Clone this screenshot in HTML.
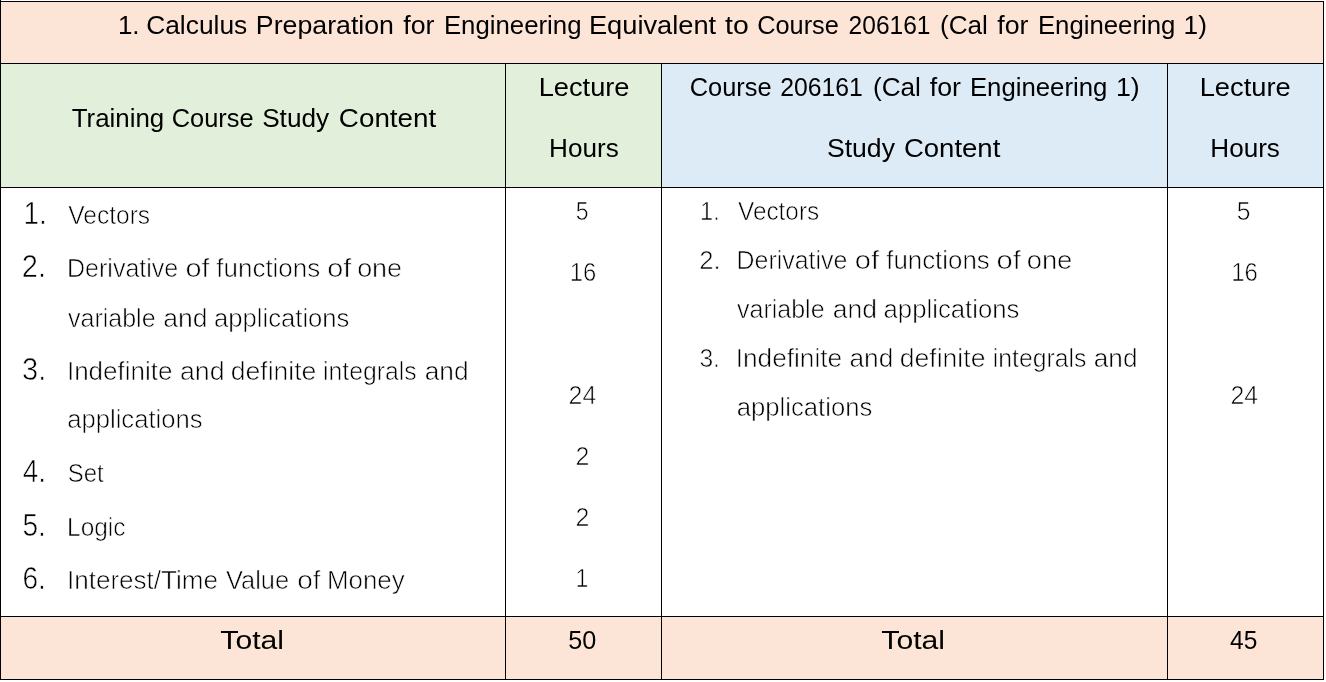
<!DOCTYPE html>
<html><head><meta charset="utf-8"><title>Calculus Preparation</title>
<style>html,body{margin:0;padding:0;background:#fff;overflow:hidden}svg{display:block}text{font-family:"Liberation Sans",sans-serif;fill:#000}.b{fill:#000;stroke:#fff;stroke-width:0.6px;paint-order:fill stroke}.h{fill:#000}</style></head><body>
<svg width="1326" height="682" viewBox="0 0 1326 682">
<rect x="0" y="0" width="1326" height="682" fill="#fff"/>
<rect x="0" y="1" width="1324" height="63" fill="#FCE4D6"/>
<rect x="0" y="63" width="662" height="125" fill="#E2EFDA"/>
<rect x="661" y="63" width="663" height="125" fill="#DDEBF7"/>
<rect x="0" y="616" width="1324" height="64" fill="#FCE4D6"/>
<g fill="#000" shape-rendering="crispEdges">
<rect x="0" y="1" width="1324" height="1"/>
<rect x="0" y="63" width="1324" height="1"/>
<rect x="0" y="187" width="1324" height="1"/>
<rect x="0" y="616" width="1324" height="1"/>
<rect x="0" y="679" width="1324" height="1"/>
<rect x="0" y="0" width="1" height="680"/>
<rect x="1323" y="1" width="1" height="679"/>
<rect x="505" y="63" width="1" height="617"/>
<rect x="661" y="63" width="1" height="617"/>
<rect x="1167" y="63" width="1" height="617"/>
</g>
<defs><filter id="g" x="0" y="0" width="1326" height="682" filterUnits="userSpaceOnUse"><feOffset dx="0" dy="0"/></filter></defs><g filter="url(#g)">
<text class="h" x="117.96" y="34" font-size="25.0" textLength="21.63" lengthAdjust="spacingAndGlyphs">1.</text>
<text class="h" x="146.17" y="34" font-size="25.0" textLength="101.12" lengthAdjust="spacingAndGlyphs">Calculus</text>
<text class="h" x="255.87" y="34" font-size="25.0" textLength="138.09" lengthAdjust="spacingAndGlyphs">Preparation</text>
<text class="h" x="403.22" y="34" font-size="25.0" textLength="31.20" lengthAdjust="spacingAndGlyphs">for</text>
<text class="h" x="443.94" y="34" font-size="25.0" textLength="137.54" lengthAdjust="spacingAndGlyphs">Engineering</text>
<text class="h" x="588.90" y="34" font-size="25.0" textLength="127.31" lengthAdjust="spacingAndGlyphs">Equivalent</text>
<text class="h" x="725.00" y="34" font-size="25.0" textLength="23.66" lengthAdjust="spacingAndGlyphs">to</text>
<text class="h" x="757.19" y="34" font-size="25.0" textLength="81.61" lengthAdjust="spacingAndGlyphs">Course</text>
<text class="h" x="848.61" y="34" font-size="25.0" textLength="81.92" lengthAdjust="spacingAndGlyphs">206161</text>
<text class="h" x="939.94" y="34" font-size="25.0" textLength="47.98" lengthAdjust="spacingAndGlyphs">(Cal</text>
<text class="h" x="997.22" y="34" font-size="25.0" textLength="31.20" lengthAdjust="spacingAndGlyphs">for</text>
<text class="h" x="1037.93" y="34" font-size="25.0" textLength="137.45" lengthAdjust="spacingAndGlyphs">Engineering</text>
<text class="h" x="1183.63" y="34" font-size="25.0" textLength="23.31" lengthAdjust="spacingAndGlyphs">1)</text>
<text class="h" x="71.79" y="127" font-size="25.0" textLength="92.45" lengthAdjust="spacingAndGlyphs">Training</text>
<text class="h" x="171.77" y="127" font-size="25.0" textLength="81.86" lengthAdjust="spacingAndGlyphs">Course</text>
<text class="h" x="262.17" y="127" font-size="25.0" textLength="66.98" lengthAdjust="spacingAndGlyphs">Study</text>
<text class="h" x="338.89" y="127" font-size="25.0" textLength="97.32" lengthAdjust="spacingAndGlyphs">Content</text>
<text class="h" x="538.71" y="96.1" font-size="25.0" textLength="90.78" lengthAdjust="spacingAndGlyphs">Lecture</text>
<text class="h" x="549.13" y="156.8" font-size="25.0" textLength="69.69" lengthAdjust="spacingAndGlyphs">Hours</text>
<text class="h" x="689.77" y="96.1" font-size="25.0" textLength="81.86" lengthAdjust="spacingAndGlyphs">Course</text>
<text class="h" x="780.21" y="96.1" font-size="25.0" textLength="82.51" lengthAdjust="spacingAndGlyphs">206161</text>
<text class="h" x="872.95" y="96.1" font-size="25.0" textLength="47.98" lengthAdjust="spacingAndGlyphs">(Cal</text>
<text class="h" x="929.78" y="96.1" font-size="25.0" textLength="31.20" lengthAdjust="spacingAndGlyphs">for</text>
<text class="h" x="969.93" y="96.1" font-size="25.0" textLength="137.45" lengthAdjust="spacingAndGlyphs">Engineering</text>
<text class="h" x="1115.96" y="96.1" font-size="25.0" textLength="23.70" lengthAdjust="spacingAndGlyphs">1)</text>
<text class="h" x="826.94" y="157" font-size="25.0" textLength="68.00" lengthAdjust="spacingAndGlyphs">Study</text>
<text class="h" x="903.90" y="157" font-size="25.0" textLength="96.42" lengthAdjust="spacingAndGlyphs">Content</text>
<text class="h" x="1199.70" y="96.1" font-size="25.0" textLength="90.99" lengthAdjust="spacingAndGlyphs">Lecture</text>
<text class="h" x="1210.32" y="156.8" font-size="25.0" textLength="69.61" lengthAdjust="spacingAndGlyphs">Hours</text>
<text class="b" x="23.38" y="224.0" font-size="30.5" textLength="23.40" lengthAdjust="spacingAndGlyphs">1.</text>
<text class="b" x="21.85" y="277.0" font-size="30.5" textLength="24.19" lengthAdjust="spacingAndGlyphs">2.</text>
<text class="b" x="22.06" y="379.7" font-size="30.5" textLength="24.23" lengthAdjust="spacingAndGlyphs">3.</text>
<text class="b" x="22.63" y="482.1" font-size="30.5" textLength="23.40" lengthAdjust="spacingAndGlyphs">4.</text>
<text class="b" x="22.47" y="535.5" font-size="30.5" textLength="23.43" lengthAdjust="spacingAndGlyphs">5.</text>
<text class="b" x="22.47" y="588.9" font-size="30.5" textLength="23.43" lengthAdjust="spacingAndGlyphs">6.</text>
<text class="b" x="68.21" y="224.0" font-size="25.0" textLength="81.95" lengthAdjust="spacingAndGlyphs">Vectors</text>
<text class="b" x="67.01" y="277.0" font-size="25.0" textLength="111.25" lengthAdjust="spacingAndGlyphs">Derivative</text>
<text class="b" x="185.55" y="277.0" font-size="25.0" textLength="24.01" lengthAdjust="spacingAndGlyphs">of</text>
<text class="b" x="216.37" y="277.0" font-size="25.0" textLength="103.85" lengthAdjust="spacingAndGlyphs">functions</text>
<text class="b" x="327.30" y="277.0" font-size="25.0" textLength="24.01" lengthAdjust="spacingAndGlyphs">of</text>
<text class="b" x="357.15" y="277.0" font-size="25.0" textLength="44.93" lengthAdjust="spacingAndGlyphs">one</text>
<text class="b" x="68.00" y="326.6" font-size="25.0" textLength="87.56" lengthAdjust="spacingAndGlyphs">variable</text>
<text class="b" x="163.16" y="326.6" font-size="25.0" textLength="44.29" lengthAdjust="spacingAndGlyphs">and</text>
<text class="b" x="213.97" y="326.6" font-size="25.0" textLength="135.48" lengthAdjust="spacingAndGlyphs">applications</text>
<text class="b" x="66.92" y="379.7" font-size="25.0" textLength="105.61" lengthAdjust="spacingAndGlyphs">Indefinite</text>
<text class="b" x="179.94" y="379.7" font-size="25.0" textLength="44.58" lengthAdjust="spacingAndGlyphs">and</text>
<text class="b" x="230.71" y="379.7" font-size="25.0" textLength="85.70" lengthAdjust="spacingAndGlyphs">definite</text>
<text class="b" x="323.03" y="379.7" font-size="25.0" textLength="93.56" lengthAdjust="spacingAndGlyphs">integrals</text>
<text class="b" x="424.73" y="379.7" font-size="25.0" textLength="43.86" lengthAdjust="spacingAndGlyphs">and</text>
<text class="b" x="67.18" y="428.1" font-size="25.0" textLength="135.48" lengthAdjust="spacingAndGlyphs">applications</text>
<text class="b" x="67.85" y="482.1" font-size="25.0" textLength="35.87" lengthAdjust="spacingAndGlyphs">Set</text>
<text class="b" x="67.04" y="535.5" font-size="25.0" textLength="58.51" lengthAdjust="spacingAndGlyphs">Logic</text>
<text class="b" x="66.92" y="588.9" font-size="25.0" textLength="151.17" lengthAdjust="spacingAndGlyphs">Interest/Time</text>
<text class="b" x="225.99" y="588.9" font-size="25.0" textLength="63.13" lengthAdjust="spacingAndGlyphs">Value</text>
<text class="b" x="297.19" y="588.9" font-size="25.0" textLength="23.42" lengthAdjust="spacingAndGlyphs">of</text>
<text class="b" x="326.93" y="588.9" font-size="25.0" textLength="77.72" lengthAdjust="spacingAndGlyphs">Money</text>
<text class="b" x="575.83" y="220.0" font-size="25.0" textLength="12.79" lengthAdjust="spacingAndGlyphs">5</text>
<text class="b" x="569.69" y="280.8" font-size="25.0" textLength="26.54" lengthAdjust="spacingAndGlyphs">16</text>
<text class="b" x="568.62" y="404.2" font-size="25.0" textLength="27.68" lengthAdjust="spacingAndGlyphs">24</text>
<text class="b" x="575.53" y="465.0" font-size="25.0" textLength="13.86" lengthAdjust="spacingAndGlyphs">2</text>
<text class="b" x="575.53" y="526.3" font-size="25.0" textLength="13.86" lengthAdjust="spacingAndGlyphs">2</text>
<text class="b" x="575.62" y="587.2" font-size="25.0" textLength="12.79" lengthAdjust="spacingAndGlyphs">1</text>
<text class="b" x="700.12" y="220.0" font-size="25.0" textLength="19.63" lengthAdjust="spacingAndGlyphs">1.</text>
<text class="b" x="738.00" y="220.0" font-size="25.0" textLength="81.15" lengthAdjust="spacingAndGlyphs">Vectors</text>
<text class="b" x="699.17" y="268.9" font-size="25.0" textLength="21.35" lengthAdjust="spacingAndGlyphs">2.</text>
<text class="b" x="736.58" y="268.9" font-size="25.0" textLength="110.68" lengthAdjust="spacingAndGlyphs">Derivative</text>
<text class="b" x="854.68" y="268.9" font-size="25.0" textLength="24.37" lengthAdjust="spacingAndGlyphs">of</text>
<text class="b" x="886.19" y="268.9" font-size="25.0" textLength="103.60" lengthAdjust="spacingAndGlyphs">functions</text>
<text class="b" x="996.44" y="268.9" font-size="25.0" textLength="24.37" lengthAdjust="spacingAndGlyphs">of</text>
<text class="b" x="1026.66" y="268.9" font-size="25.0" textLength="45.70" lengthAdjust="spacingAndGlyphs">one</text>
<text class="b" x="737.00" y="317.7" font-size="25.0" textLength="87.56" lengthAdjust="spacingAndGlyphs">variable</text>
<text class="b" x="832.72" y="317.7" font-size="25.0" textLength="44.29" lengthAdjust="spacingAndGlyphs">and</text>
<text class="b" x="883.55" y="317.7" font-size="25.0" textLength="135.89" lengthAdjust="spacingAndGlyphs">applications</text>
<text class="b" x="699.39" y="366.8" font-size="25.0" textLength="20.58" lengthAdjust="spacingAndGlyphs">3.</text>
<text class="b" x="735.69" y="366.8" font-size="25.0" textLength="106.41" lengthAdjust="spacingAndGlyphs">Indefinite</text>
<text class="b" x="849.51" y="366.8" font-size="25.0" textLength="43.78" lengthAdjust="spacingAndGlyphs">and</text>
<text class="b" x="899.74" y="366.8" font-size="25.0" textLength="85.70" lengthAdjust="spacingAndGlyphs">definite</text>
<text class="b" x="992.82" y="366.8" font-size="25.0" textLength="93.56" lengthAdjust="spacingAndGlyphs">integrals</text>
<text class="b" x="1093.77" y="366.8" font-size="25.0" textLength="43.72" lengthAdjust="spacingAndGlyphs">and</text>
<text class="b" x="736.77" y="415.7" font-size="25.0" textLength="135.48" lengthAdjust="spacingAndGlyphs">applications</text>
<text class="b" x="1236.65" y="219.9" font-size="25.0" textLength="13.73" lengthAdjust="spacingAndGlyphs">5</text>
<text class="b" x="1231.14" y="280.7" font-size="25.0" textLength="26.61" lengthAdjust="spacingAndGlyphs">16</text>
<text class="b" x="1230.43" y="404.2" font-size="25.0" textLength="27.68" lengthAdjust="spacingAndGlyphs">24</text>
<text class="h" x="220.38" y="649" font-size="25.0" textLength="63.67" lengthAdjust="spacingAndGlyphs">Total</text>
<text class="h" x="568.19" y="649" font-size="25.0" textLength="28.03" lengthAdjust="spacingAndGlyphs">50</text>
<text class="h" x="881.38" y="649" font-size="25.0" textLength="63.67" lengthAdjust="spacingAndGlyphs">Total</text>
<text class="h" x="1230.00" y="649" font-size="25.0" textLength="27.31" lengthAdjust="spacingAndGlyphs">45</text>
</g>
</svg></body></html>
